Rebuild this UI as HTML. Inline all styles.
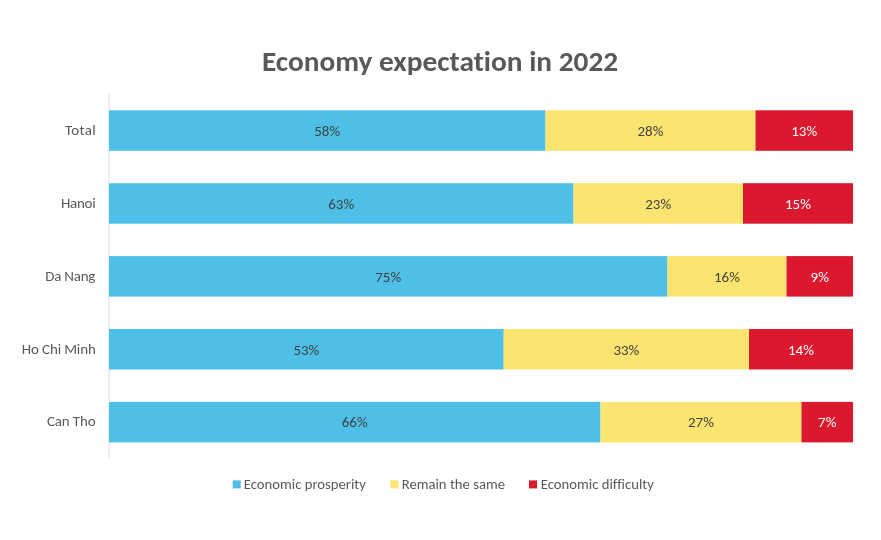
<!DOCTYPE html>
<html><head><meta charset="utf-8"><title>Economy expectation in 2022</title>
<style>
html,body{margin:0;padding:0;background:#fff;}
body{width:881px;height:540px;overflow:hidden;}
svg{display:block;will-change:transform;}
text{font-family:Carlito, Calibri, "Liberation Sans", sans-serif;font-variant-ligatures:none;}
.t{font-size:28px;font-weight:bold;fill:#595959;}
.c{font-size:15px;fill:#595959;}
.d{font-size:15px;}
.l{font-size:14.7px;fill:#595959;}
</style></head><body>
<svg width="881" height="540" viewBox="0 0 881 540">
<rect width="881" height="540" fill="#fff"/>
<line x1="109" y1="94" x2="109" y2="458.3" stroke="#DEDEDE" stroke-width="1"/>
<rect x="109" y="110.30" width="436.50" height="40.5" fill="#4EC0E7"/>
<rect x="545.5" y="110.30" width="210.00" height="40.5" fill="#FCE470"/>
<rect x="755.5" y="110.30" width="97.50" height="40.5" fill="#DB182E"/>
<text x="327.25" y="135.85" text-anchor="middle" textLength="25.94" lengthAdjust="spacingAndGlyphs" class="d" fill="#404040">58%</text>
<text x="650.50" y="135.85" text-anchor="middle" textLength="25.94" lengthAdjust="spacingAndGlyphs" class="d" fill="#404040">28%</text>
<text x="804.25" y="135.85" text-anchor="middle" textLength="25.94" lengthAdjust="spacingAndGlyphs" class="d" fill="#FFFFFF">13%</text>
<text x="64.90" y="134.90" textLength="30.90" lengthAdjust="spacing" class="c">Total</text>
<rect x="109" y="183.20" width="464.50" height="40.5" fill="#4EC0E7"/>
<rect x="573.5" y="183.20" width="169.50" height="40.5" fill="#FCE470"/>
<rect x="743" y="183.20" width="110.00" height="40.5" fill="#DB182E"/>
<text x="341.25" y="208.75" text-anchor="middle" textLength="25.94" lengthAdjust="spacingAndGlyphs" class="d" fill="#404040">63%</text>
<text x="658.25" y="208.75" text-anchor="middle" textLength="25.94" lengthAdjust="spacingAndGlyphs" class="d" fill="#404040">23%</text>
<text x="798.00" y="208.75" text-anchor="middle" textLength="25.94" lengthAdjust="spacingAndGlyphs" class="d" fill="#FFFFFF">15%</text>
<text x="61.00" y="207.60" textLength="34.70" lengthAdjust="spacing" class="c">Hanoi</text>
<rect x="109" y="256.10" width="558.50" height="40.5" fill="#4EC0E7"/>
<rect x="667.5" y="256.10" width="119.00" height="40.5" fill="#FCE470"/>
<rect x="786.5" y="256.10" width="66.50" height="40.5" fill="#DB182E"/>
<text x="388.25" y="281.65" text-anchor="middle" textLength="25.94" lengthAdjust="spacingAndGlyphs" class="d" fill="#404040">75%</text>
<text x="727.00" y="281.65" text-anchor="middle" textLength="25.94" lengthAdjust="spacingAndGlyphs" class="d" fill="#404040">16%</text>
<text x="819.75" y="281.65" text-anchor="middle" textLength="18.33" lengthAdjust="spacingAndGlyphs" class="d" fill="#FFFFFF">9%</text>
<text x="45.30" y="280.50" textLength="50.10" lengthAdjust="spacing" class="c">Da Nang</text>
<rect x="109" y="329.00" width="394.70" height="40.5" fill="#4EC0E7"/>
<rect x="503.7" y="329.00" width="245.30" height="40.5" fill="#FCE470"/>
<rect x="749" y="329.00" width="104.00" height="40.5" fill="#DB182E"/>
<text x="306.35" y="354.55" text-anchor="middle" textLength="25.94" lengthAdjust="spacingAndGlyphs" class="d" fill="#404040">53%</text>
<text x="626.35" y="354.55" text-anchor="middle" textLength="25.94" lengthAdjust="spacingAndGlyphs" class="d" fill="#404040">33%</text>
<text x="801.00" y="354.55" text-anchor="middle" textLength="25.94" lengthAdjust="spacingAndGlyphs" class="d" fill="#FFFFFF">14%</text>
<text x="21.80" y="353.90" textLength="74.00" lengthAdjust="spacing" class="c">Ho Chi Minh</text>
<rect x="109" y="401.90" width="491.50" height="40.5" fill="#4EC0E7"/>
<rect x="600.5" y="401.90" width="201.00" height="40.5" fill="#FCE470"/>
<rect x="801.5" y="401.90" width="51.50" height="40.5" fill="#DB182E"/>
<text x="354.75" y="427.45" text-anchor="middle" textLength="25.94" lengthAdjust="spacingAndGlyphs" class="d" fill="#404040">66%</text>
<text x="701.00" y="427.45" text-anchor="middle" textLength="25.94" lengthAdjust="spacingAndGlyphs" class="d" fill="#404040">27%</text>
<text x="827.25" y="427.45" text-anchor="middle" textLength="18.33" lengthAdjust="spacingAndGlyphs" class="d" fill="#FFFFFF">7%</text>
<text x="47.00" y="426.30" textLength="48.60" lengthAdjust="spacing" class="c">Can Tho</text>
<rect x="232.7" y="480.4" width="8" height="8" fill="#4EC0E7"/>
<text x="243.8" y="488.8" textLength="122.08" lengthAdjust="spacingAndGlyphs" class="l">Economic prosperity</text>
<rect x="390.4" y="480.4" width="8" height="8" fill="#FCE470"/>
<text x="401.7" y="488.8" textLength="103.3" lengthAdjust="spacingAndGlyphs" class="l">Remain the same</text>
<rect x="529" y="480.4" width="8" height="8" fill="#DB182E"/>
<text x="540.8" y="488.8" textLength="113.05" lengthAdjust="spacingAndGlyphs" class="l">Economic difficulty</text>
<text x="261.9" y="71.1" textLength="356.3" lengthAdjust="spacingAndGlyphs" class="t">Economy expectation in 2022</text>
</svg>
</body></html>
